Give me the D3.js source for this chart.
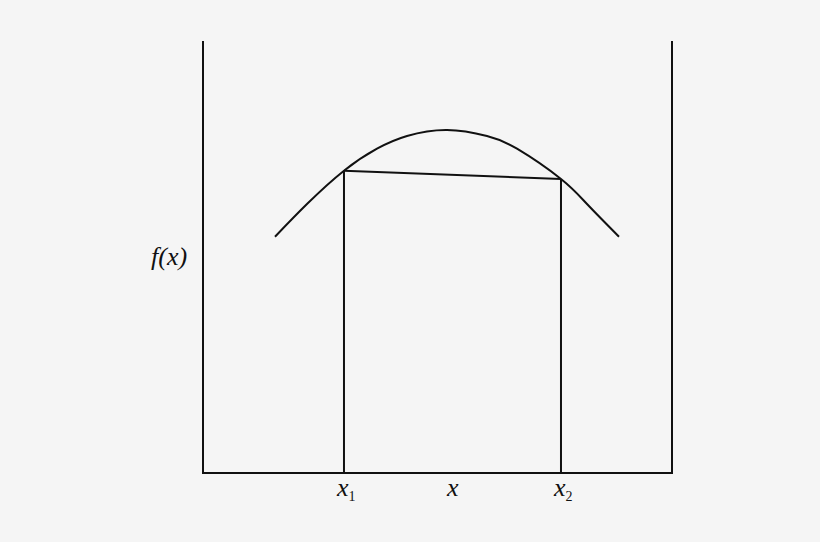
<!DOCTYPE html>
<html>
<head>
<meta charset="utf-8">
<script src="https://cdn.jsdelivr.net/npm/d3@7"></script>
<style>
  html, body { margin: 0; padding: 0; background: #f5f5f5; }
  svg { display: block; }
  text { font-family: "Liberation Serif", "Times New Roman", serif; font-style: italic; fill: #111; }
</style>
</head>
<body>
<svg id="chart" width="820" height="542"></svg>
<script>
// Curve f(x) (arbitrary units 0..10)
const curveX = [1.535, 2.217, 3.006, 3.710, 4.350, 5.203, 6.055, 6.695, 7.633, 8.188, 8.870];
const curveY = [5.470, 6.227, 6.998, 7.507, 7.801, 7.940, 7.801, 7.507, 6.806, 6.227, 5.470];
// Chord end points x1, x2
const pointX = [3.006, 7.633];
const pointY = [6.998, 6.806];
// Axis labels
const labelText = ["x", "x", "x"];
const labelSub = ["1", "", "2"];
const labelAt = [3.006, 5.35, 7.633];
const yLabel = "f(x)";

const W = 820, H = 542;
const svg = d3.select("#chart");
svg.append("rect").attr("width", W).attr("height", H).attr("fill", "#f5f5f5");

const x = d3.scaleLinear().domain([0, 10]).range([203, 672]);
const y = d3.scaleLinear().domain([0, 10]).range([473, 41]);

const stroke = "#111";
const sw = 2;

// Frame: left, right and bottom lines
const frame = d3.line()([[x(0), y(10)], [x(0), y(0)], [x(10), y(0)], [x(10), y(10)]]);
svg.append("path").attr("d", frame).attr("fill", "none")
  .attr("stroke", stroke).attr("stroke-width", sw).attr("stroke-linejoin", "miter");

// Curve
const pts = curveX.map((d, i) => [d, curveY[i]]);
const line = d3.line().x(d => x(d[0])).y(d => y(d[1])).curve(d3.curveNatural);
svg.append("path").datum(pts).attr("d", line).attr("fill", "none")
  .attr("stroke", stroke).attr("stroke-width", sw);

// Chord
const chord = pointX.map((d, i) => [d, pointY[i]]);
svg.append("path").datum(chord).attr("d", d3.line().x(d => x(d[0])).y(d => y(d[1])))
  .attr("fill", "none").attr("stroke", stroke).attr("stroke-width", sw);

// Verticals from points to the axis
svg.selectAll("line.drop").data(chord).join("line").attr("class", "drop")
  .attr("x1", d => x(d[0])).attr("x2", d => x(d[0]))
  .attr("y1", d => y(d[1])).attr("y2", y(0))
  .attr("stroke", stroke).attr("stroke-width", sw);

// X labels
labelText.forEach((t, i) => {
  const tx = svg.append("text")
    .attr("x", x(labelAt[i]) - 7).attr("y", 496)
    .attr("font-size", 26);
  tx.append("tspan").text(t);
  if (labelSub[i]) {
    tx.append("tspan").attr("dy", 5).attr("font-size", 14).attr("font-style", "normal").text(labelSub[i]);
  }
});

// Y label
svg.append("text").attr("x", 151).attr("y", 265).attr("font-size", 26).text(yLabel);
</script>
</body>
</html>
